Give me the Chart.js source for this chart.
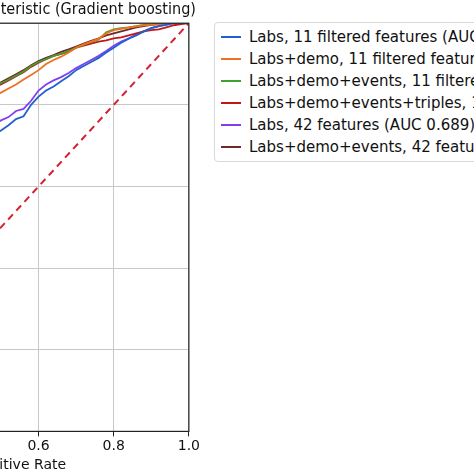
<!DOCTYPE html>
<html>
<head>
<meta charset="utf-8">
<script src="https://cdn.jsdelivr.net/npm/chart.js@4"></script>
<style>
  body { margin: 0; width: 474px; height: 474px; overflow: hidden; position: relative; background: #fff; font-family: "DejaVu Sans", sans-serif; }
  #roc { position: absolute; left: -200px; top: 0; }
  #legend { position: absolute; left: 214px; top: 22px; width: 300px; border: 1px solid #d8d8d8; border-radius: 4px; padding: 3px 0 3px 6px; background: #fff; }
  .row { height: 22px; display: flex; align-items: center; font-size: 15px; white-space: nowrap; color: #111; }
  .sw { width: 20px; height: 2px; margin-right: 8px; flex: none; }
</style>
</head>
<body>
<canvas id="roc" width="402" height="474"></canvas>
<div id="legend"></div>
<script>
// Đường ROC của các mô hình (Gradient boosting)
const fpr = [0, 0.05, 0.1, 0.2, 0.3, 0.4, 0.45, 0.5, 0.52, 0.54, 0.56, 0.58, 0.6, 0.62, 0.64, 0.66, 0.68, 0.7,
             0.72, 0.74, 0.76, 0.78, 0.8, 0.82, 0.84, 0.86, 0.88, 0.9, 0.92, 0.94, 0.96, 0.98, 1.0];
const labs11   = [0, 0.25, 0.38, 0.52, 0.61, 0.68, 0.71, 0.737, 0.75, 0.765, 0.772, 0.80, 0.82, 0.835, 0.845, 0.858, 0.87, 0.885,
                  0.895, 0.905, 0.915, 0.928, 0.94, 0.952, 0.962, 0.97, 0.98, 0.988, 0.993, 0.996, 1, 1, 1];
const demo11   = [0, 0.35, 0.5, 0.65, 0.74, 0.79, 0.81, 0.83, 0.84, 0.85, 0.862, 0.873, 0.885, 0.9, 0.91, 0.918, 0.928, 0.94,
                  0.948, 0.955, 0.962, 0.975, 0.983, 0.986, 0.99, 0.992, 0.995, 0.996, 0.998, 1, 1, 1, 1];
const events11 = [0, 0.37, 0.52, 0.67, 0.76, 0.81, 0.835, 0.853, 0.862, 0.872, 0.882, 0.895, 0.905, 0.912, 0.92, 0.925, 0.932, 0.94,
                  0.947, 0.954, 0.96, 0.978, 0.985, 0.988, 0.99, 0.993, 0.996, 0.997, 0.999, 1, 1, 1, 1];
const triples11= [0, 0.37, 0.52, 0.67, 0.76, 0.81, 0.835, 0.85, 0.86, 0.87, 0.88, 0.893, 0.903, 0.912, 0.92, 0.925, 0.93, 0.94,
                  0.945, 0.95, 0.955, 0.958, 0.963, 0.965, 0.97, 0.975, 0.98, 0.983, 0.985, 0.99, 0.995, 0.998, 1];
const labs42   = [0, 0.27, 0.4, 0.54, 0.63, 0.7, 0.735, 0.762, 0.77, 0.785, 0.79, 0.81, 0.835, 0.85, 0.86, 0.868, 0.878, 0.89,
                  0.9, 0.91, 0.92, 0.932, 0.945, 0.955, 0.963, 0.972, 0.98, 0.988, 0.993, 0.997, 1, 1, 1];
const events42 = [0, 0.37, 0.52, 0.67, 0.76, 0.81, 0.835, 0.855, 0.865, 0.875, 0.885, 0.897, 0.907, 0.915, 0.922, 0.93, 0.936, 0.943,
                  0.95, 0.957, 0.963, 0.97, 0.975, 0.98, 0.985, 0.99, 0.993, 0.996, 0.998, 1, 1, 1, 1];
const chance = [0, 1];

const seriesLabels = [
  'Labs, 11 filtered features (AUC 0.784)',
  'Labs+demo, 11 filtered features (AUC 0.822)',
  'Labs+demo+events, 11 filtered features (AUC 0.830)',
  'Labs+demo+events+triples, 11 filtered features (AUC 0.829)',
  'Labs, 42 features (AUC 0.689)',
  'Labs+demo+events, 42 features (AUC 0.831)'
];
const seriesValues = [labs11, demo11, events11, triples11, labs42, events42];
const seriesColors = ['#2060d0', '#f07020', '#40a030', '#c01818', '#8040f0', '#702828'];
const xTicks = [0.0, 0.2, 0.4, 0.6, 0.8, 1.0];

const datasets = seriesValues.map((vals, i) => ({
  label: seriesLabels[i],
  data: vals.map((v, j) => ({ x: fpr[j], y: v })),
  borderColor: seriesColors[i],
  borderWidth: 1.8,
  pointRadius: 0,
  tension: 0
}));
datasets.push({
  label: 'chance',
  data: chance.map(v => ({ x: v, y: v })),
  borderColor: '#d62030',
  borderWidth: 2,
  borderDash: [7, 5],
  pointRadius: 0
});

const frame = {
  id: 'frame',
  afterDraw(chart) {
    const a = chart.chartArea, c = chart.ctx;
    c.save();
    c.strokeStyle = '#222';
    c.lineWidth = 1.2;
    c.strokeRect(a.left, a.top, a.right - a.left, a.bottom - a.top);
    c.restore();
  }
};

new Chart(document.getElementById('roc').getContext('2d'), {
  type: 'line',
  data: { datasets },
  options: {
    responsive: false,
    animation: false,
    layout: { padding: { left: 6, right: 6, top: 0, bottom: 0 } },
    plugins: {
      legend: { display: false },
      tooltip: { enabled: false },
      title: {
        display: true,
        text: 'Receiver Operating Characteristic (Gradient boosting)',
        color: '#111',
        font: { family: 'DejaVu Sans', size: 16, weight: 'normal' },
        padding: { top: 0, bottom: 4 }
      }
    },
    scales: {
      x: {
        type: 'linear', min: 0, max: 1,
        afterBuildTicks: s => { s.ticks = xTicks.map(v => ({ value: v })); },
        ticks: { color: '#111', font: { family: 'DejaVu Sans', size: 14 }, padding: 2, callback: v => v.toFixed(1) },
        grid: { color: '#c8c8c8', tickColor: '#222', tickLength: 5 },
        border: { color: '#222' },
        title: { display: true, text: 'False Positive Rate', color: '#111', font: { family: 'DejaVu Sans', size: 14 }, padding: 0 }
      },
      y: {
        min: 0, max: 1,
        afterBuildTicks: s => { s.ticks = xTicks.map(v => ({ value: v })); },
        ticks: { display: false },
        grid: { color: '#c8c8c8', drawTicks: false },
        border: { display: false }
      }
    }
  },
  plugins: [frame]
});

const legend = document.getElementById('legend');
seriesLabels.forEach((t, i) => {
  const r = document.createElement('div');
  r.className = 'row';
  r.innerHTML = '<span class="sw" style="background:' + seriesColors[i] + '"></span>' + t;
  legend.appendChild(r);
});
</script>
</body>
</html>
